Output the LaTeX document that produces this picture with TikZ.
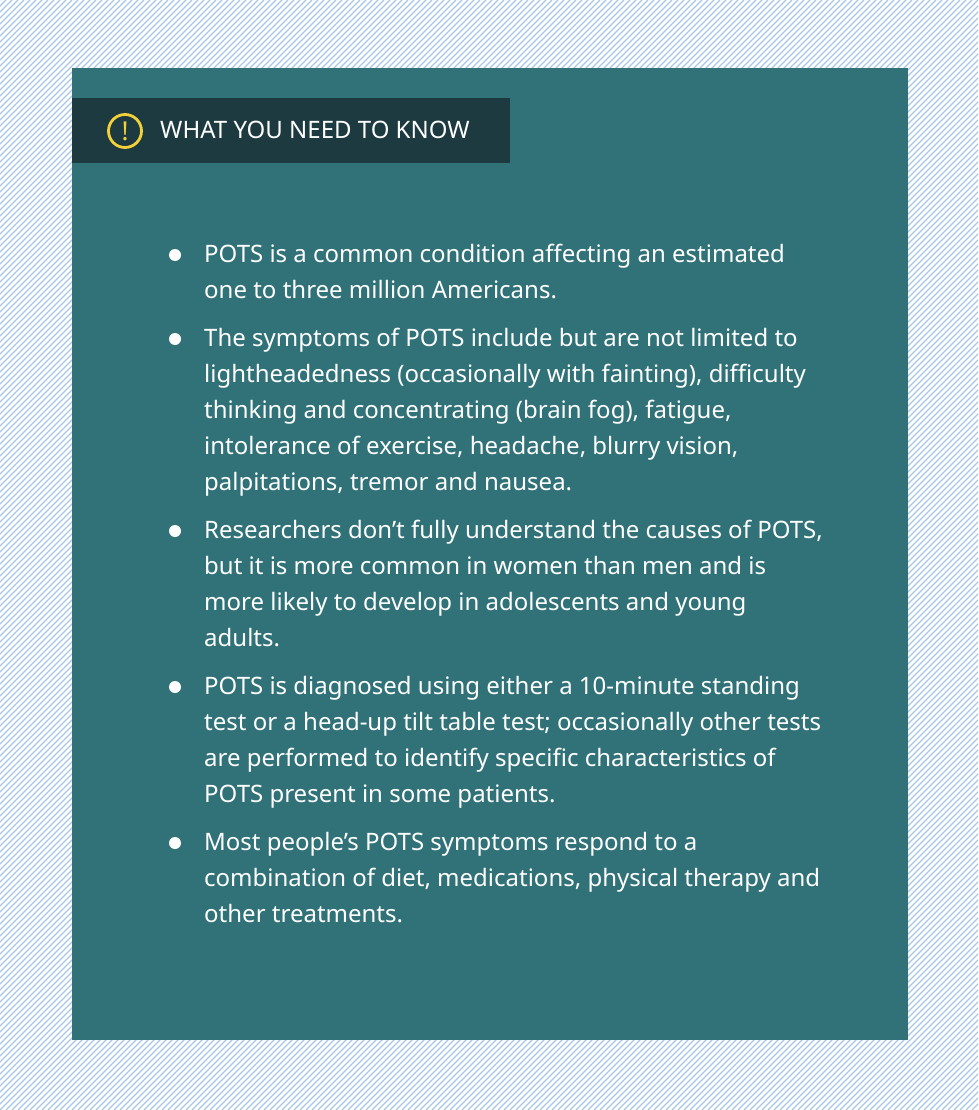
\documentclass[tikz,border=0pt]{standalone}
\usepackage{fontspec}
\setmainfont{Noto Sans}
\definecolor{panelteal}{RGB}{49,114,120}
\definecolor{headdark}{RGB}{29,58,64}
\definecolor{warnyellow}{RGB}{242,209,58}
\definecolor{hatchblue}{RGB}{168,200,232}
\tikzset{
  itemtext/.style={anchor=base west,inner sep=0pt,align=left,text=white,
    font=\fontsize{24}{36}\selectfont},
  dot/.style={circle,fill=white,inner sep=0pt,minimum size=12pt}
}
\begin{document}
\begin{tikzpicture}[x=1pt,y=-1pt]
 % background hatch
  \useasboundingbox (0,0) rectangle (978,1110);
  \fill[white] (0,0) rectangle (978,1110);
  \begin{scope}
    \clip (0,0) rectangle (978,1110);
    \foreach \k in {0,6,...,2100} {
      \draw[hatchblue,line width=1.3pt] (\k,0) -- (\k-1110,1110);
    }
  \end{scope}

 % panel and header
  \fill[panelteal] (72,68) rectangle (908,1040);
  \fill[headdark] (72,98) rectangle (510,163);
  \draw[warnyellow,line width=2.8pt] (125,131) circle (16.5);
  \node[text=warnyellow,font=\bfseries\fontsize{26}{26}\selectfont,inner sep=0pt] (icon) at (125,131) {!};
  \node[anchor=base west,inner sep=0pt,text=white,font=\fontsize{24}{28}\selectfont] (title) at (160,139) {WHAT YOU NEED TO KNOW};

 % bullet items (y of first baseline / y of last baseline)
  \foreach \yy/\ylast/\txt in {
    262/298/{POTS is a common condition affecting an estimated\\one to three million Americans.},
    346/490/{The symptoms of POTS include but are not limited to\\lightheadedness (occasionally with fainting), difficulty\\thinking and concentrating (brain fog), fatigue,\\intolerance of exercise, headache, blurry vision,\\palpitations, tremor and nausea.},
    538/646/{Researchers don’t fully understand the causes of POTS,\\but it is more common in women than men and is\\more likely to develop in adolescents and young\\adults.},
    694/802/{POTS is diagnosed using either a 10-minute standing\\test or a head-up tilt table test; occasionally other tests\\are performed to identify specific characteristics of\\POTS present in some patients.},
    850/922/{Most people’s POTS symptoms respond to a\\combination of diet, medications, physical therapy and\\other treatments.}} {
    \node[dot] (dot\yy) at (175,\yy-7) {};
    \node[itemtext] (item\yy) at (204,\ylast) {\txt};
  }
\end{tikzpicture}
\end{document}
